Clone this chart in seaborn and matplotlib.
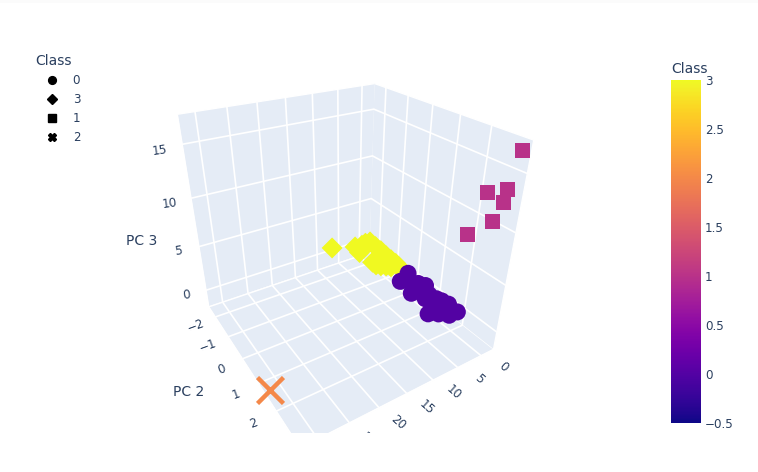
import matplotlib
matplotlib.use('Agg')
import matplotlib.pyplot as plt
from matplotlib.lines import Line2D
from matplotlib.patches import Rectangle
from mpl_toolkits.mplot3d import proj3d
import seaborn as sns

# class 0
pc1_0 = [-0.42, 2.37, 0.93, 0.06, -0.64, 2.96, 1.41, 0.6, 0.31, -0.42, -0.07, -0.23, 1.51, 2.75, 4.19, 1.88, 1.12, 1.91]
pc2_0 = [-0.03, 0.18, 0.34, 0.54, 0.73, 0.81, 0.86, 1.12, 1.38, 1.74, 1.53, 2.12, 2.11, 1.92, 1.77, 1.55, 1.86, 1.21]
pc3_0 = [0.4] * 18

# class 3
pc1_3 = [6.79, 2.69, 1.17, 0.11, -0.98, 2.16, 3.11, -0.86, -0.83, -0.6, -0.56, -0.53, -0.33, 1.16, 2.96, 2.94, 2.35, 1.54, 0.95, 0.61]
pc2_3 = [-2.48, -2.14, -2.11, -2.16, -2.15, -1.9, -1.78, -1.81, -1.51, -1.18, -0.91, -0.66, -0.45, -1.16, -1.09, -0.91, -0.79, -0.7, -0.58, -0.97]
pc3_3 = [0.4] * 20

# class 1
pc1_1 = [-0.93, -0.93, -0.93, -0.93, -0.93, -0.93]
pc2_1 = [3.17, 2.43, 2.96, 2.92, 2.7, 1.99]
pc3_1 = [17.0, 12.75, 13.69, 12.53, 10.53, 8.19]

# class 2
pc1_2 = [32.0]
pc2_2 = [1.47]
pc3_2 = [-1.55]

pc1_ticks = [0, 5, 10, 15, 20, 25, 30]
pc2_ticks = [-2, -1, 0, 1, 2]
pc3_ticks = [0, 5, 10, 15]
pc2_labels = ['\u22122', '\u22121', '0', '1', '2']
cbar_ticks = [-0.5, 0, 0.5, 1, 1.5, 2, 2.5, 3]
cbar_labels = ['\u22120.5', '0', '0.5', '1', '1.5', '2', '2.5', '3']
legend_labels = ['0', '3', '1', '2']
legend_markers = ['o', 'D', 's', 'X']

W, H = 758, 472
TEXT = '#2a3f5f'
PANE = '#E5ECF6'

sns.set_theme(style='white', font='DejaVu Sans')
plasma = sns.color_palette('plasma', as_cmap=True)

fig = plt.figure(figsize=(W / 100, H / 100), dpi=100)
ax = fig.add_axes([112 / W, 3 / H, 450 / W, 450 / H], projection='3d')
ax.patch.set_alpha(0)
ax.computed_zorder = False
ax.set_box_aspect((1, 1, 1), zoom=0.856)
ax.set_proj_type('persp', focal_length=0.212)
ax.view_init(elev=30, azim=58)

xlim = (-2.7, 32.7)
ylim = (-2.55, 3.17)
zlim = (-2.05, 17.55)
ax.set_xlim(xlim)
ax.set_ylim(ylim)
ax.set_zlim(zlim)

style = dict(cmap=plasma, vmin=-0.5, vmax=3, depthshade=False)
ax.scatter(pc1_3, pc2_3, pc3_3, c=[3] * len(pc1_3), marker='D', s=114, linewidths=0, zorder=2, **style)
sc = ax.scatter(pc1_0, pc2_0, pc3_0, c=[0] * len(pc1_0), marker='o', s=150, linewidths=0, zorder=3, **style)
ax.scatter(pc1_1, pc2_1, pc3_1, c=[1] * len(pc1_1), marker='s', s=117, linewidths=0, zorder=4, **style)
ax.scatter(pc1_2, pc2_2, pc3_2, c=[2] * len(pc1_2), marker='x', s=350, linewidths=3.2, zorder=5, **style)

ax.set_xticks(pc1_ticks)
ax.set_yticks(pc2_ticks)
ax.set_zticks(pc3_ticks)
ax.set_xticklabels([])
ax.set_yticklabels([])
ax.set_zticklabels([])
for axis in (ax.xaxis, ax.yaxis, ax.zaxis):
    axis.set_pane_color(PANE)
    axis.pane.set_edgecolor('white')
    axis.line.set_color('white')
    axis.line.set_linewidth(1.5)
    axis._axinfo['grid'].update(color='white', linewidth=1.2)
    axis._axinfo['tick'].update(inward_factor=0, outward_factor=0)


def tick_text(x, y, z, label, rotation):
    # plain 2D text at the projected spot, so the tilt can be chosen freely
    px, py, _ = proj3d.proj_transform(x, y, z, ax.get_proj())
    ax.text2D(px, py, label, transform=ax.transData, color=TEXT, fontsize=8.6,
              rotation=rotation, rotation_mode='anchor', ha='center', va='center')


for v in pc1_ticks[:6]:
    tick_text(v, ylim[1] + 0.7, zlim[0] + 0.7, str(v), -42)
for v, label in zip(pc2_ticks, pc2_labels):
    tick_text(xlim[1] + 3.5, v, zlim[0] - 0.2, label, 20)
for v in pc3_ticks:
    tick_text(xlim[1] + 3.0, ylim[0] - 0.29, v - 0.5, str(v), 8)

fig.text(142 / W, 1 - 241 / H, 'PC 3', color=TEXT, fontsize=10, ha='center', va='center')
fig.text(189 / W, 1 - 392 / H, 'PC 2', color=TEXT, fontsize=10, ha='center', va='center')

# the scene is cut off at the bottom, and there is a faint band along the top
fig.add_artist(Rectangle((0, 0), 1, (H - 433) / H, transform=fig.transFigure, facecolor='white', edgecolor='none', zorder=5))
fig.add_artist(Rectangle((0, 1 - 3 / H), 1, 3 / H, transform=fig.transFigure, facecolor='#fbfbfb', edgecolor='none', zorder=5))

cax = fig.add_axes([671 / W, (H - 423) / H, 30 / W, 343 / H])
cbar = fig.colorbar(sc, cax=cax)
cbar.outline.set_visible(False)
cbar.set_ticks(cbar_ticks, labels=cbar_labels)
cax.tick_params(length=0, pad=3, labelsize=8.6, labelcolor=TEXT)
cax.set_title('Class', loc='left', fontsize=10, color=TEXT, pad=5)

handles = [Line2D([], [], linestyle='', marker=m, color='black', markersize=5.6) for m in legend_markers]
leg = fig.legend(handles, legend_labels, title='Class', loc='upper left', bbox_to_anchor=(35 / W, 1 - 54 / H),
                 frameon=False, fontsize=8.6, title_fontsize=10, labelcolor=TEXT, borderpad=0, borderaxespad=0,
                 handlelength=2.83, handletextpad=0.33, labelspacing=0.5, numpoints=1, alignment='left')
leg.get_title().set_color(TEXT)

fig.savefig('out.png', dpi=100)
